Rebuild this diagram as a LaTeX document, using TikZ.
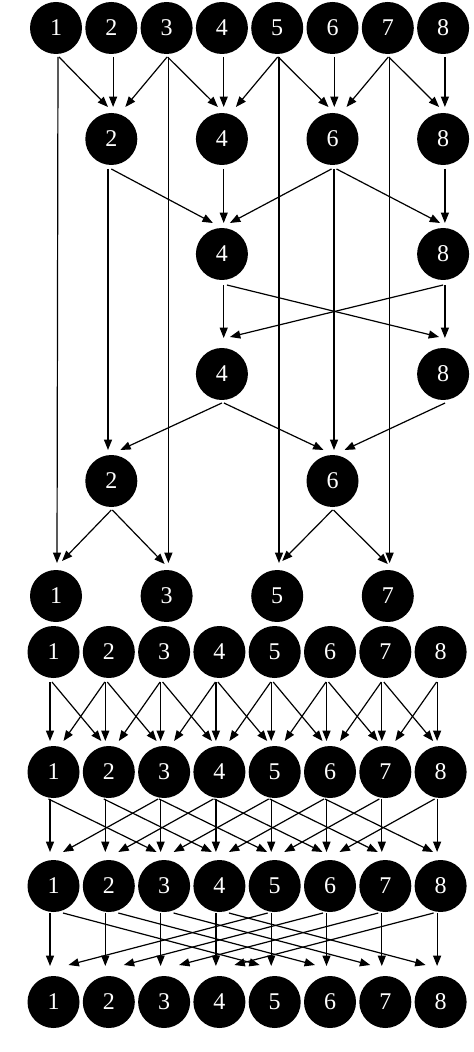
\documentclass[tikz,border=0pt]{standalone}
\usepackage{fontspec}
\setmainfont{Liberation Serif}
\usetikzlibrary{arrows.meta,calc}
\newcommand\myedge[6]{\draw[arr] ($(#1.center)+(#2,#3)$) -- ($(#4.center)+(#5,#6)$);}
\begin{document}
\begin{tikzpicture}[x=0.5pt,y=-0.5pt,
  nd/.style={circle,fill=black,text=white,minimum size=26pt,inner sep=0pt,outer sep=0pt,
    font=\fontsize{12}{14}\selectfont},
  arr/.style={line width=0.6pt,-{Triangle[length=5.2pt,width=4pt]}}]
\useasboundingbox (0,0) rectangle (474,1052);
% ---------- top diagram nodes ----------
\foreach \i in {1,...,8}{
  \node[nd] (t\i) at ({56+55.3*(\i-1)},28) {\i};
}
\foreach \i in {2,4,6,8}{
  \node[nd] (m\i) at ({56+55.3*(\i-1)},139) {\i};
}
\foreach \i in {4,8}{
  \node[nd] (p\i) at ({56+55.3*(\i-1)},254) {\i};
  \node[nd] (q\i) at ({56+55.3*(\i-1)},374) {\i};
}
\foreach \i in {2,6}{
  \node[nd] (s\i) at ({56+55.3*(\i-1)},481) {\i};
}
\foreach \i in {1,3,5,7}{
  \node[nd] (u\i) at ({56+55.3*(\i-1)},596) {\i};
}
% ---------- bottom diagram nodes ----------
\foreach \i in {1,...,8}{
  \node[nd] (a\i) at ({53.5+55.3*(\i-1)},652) {\i};
  \node[nd] (b\i) at ({53.5+55.3*(\i-1)},772) {\i};
  \node[nd] (c\i) at ({53.5+55.3*(\i-1)},886) {\i};
  \node[nd] (d\i) at ({53.5+55.3*(\i-1)},1002) {\i};
}
% ---------- top diagram edges ----------
\myedge{t1}{3}{29}{m2}{-3.3}{-32}
\myedge{t2}{1.8}{29}{m2}{1.8}{-32}
\myedge{t3}{0.5}{29}{m2}{14}{-32}
\myedge{t3}{1}{29}{m4}{-4}{-32}
\myedge{t4}{1.8}{29}{m4}{1.8}{-32}
\myedge{t5}{0.5}{29}{m4}{14}{-32}
\myedge{t5}{1}{29}{m6}{-4}{-32}
\myedge{t6}{1.8}{29}{m6}{1.8}{-32}
\myedge{t7}{0.5}{29}{m6}{14}{-32}
\myedge{t7}{1}{29}{m8}{-4}{-32}
\myedge{t8}{1.8}{29}{m8}{1.8}{-32}
\myedge{t1}{2}{29}{u1}{1}{-33}
\myedge{t3}{1.8}{29}{u3}{1.8}{-33}
\myedge{t5}{1.8}{29}{u5}{1.8}{-33}
\myedge{t7}{1.8}{29}{u7}{1.8}{-33}
% row 2 -> row 3
\myedge{m2}{0}{30}{p4}{-9}{-31}
\myedge{m4}{1.8}{30}{p4}{1.8}{-31}
\myedge{m6}{-1}{30}{p4}{8}{-31}
\myedge{m6}{4}{30}{p8}{-3}{-31}
\myedge{m8}{1.8}{30}{p8}{1.8}{-31}
\myedge{m2}{-3.3}{30}{s2}{-3.3}{-31}
\myedge{m6}{1.5}{30}{s6}{1.5}{-31}
% row 3 -> row 4
\myedge{p4}{1.8}{31}{q4}{1.8}{-36}
\myedge{p4}{5}{31}{q8}{-4}{-37}
\myedge{p8}{0}{31}{q4}{8}{-37}
\myedge{p8}{1.8}{31}{q8}{1.8}{-36}
% row 4 -> row 5
\myedge{q4}{0}{29}{s2}{9}{-31}
\myedge{q4}{2}{29}{s6}{-9}{-31}
\myedge{q8}{2}{29}{s6}{12}{-31}
% row 5 -> row 6
\myedge{s2}{0}{29}{u1}{6}{-35}
\myedge{s2}{1}{29}{u3}{-2}{-32}
\myedge{s6}{0}{29}{u5}{5}{-35}
\myedge{s6}{1}{29}{u7}{0}{-32}
% ---------- bottom diagram edges ----------
\foreach \i in {1,...,8}{
  \myedge{a\i}{-3.5}{30}{b\i}{-3.5}{-31}
  \myedge{b\i}{-3.5}{27}{c\i}{-3.5}{-34}
  \myedge{c\i}{-3.5}{27}{d\i}{-3.5}{-36}
}
\foreach \i in {1,...,7}{
  \pgfmathtruncatemacro\j{\i+1}
  \myedge{a\i}{-1.5}{30}{b\j}{-7.5}{-31}
  \myedge{a\j}{-4}{30}{b\i}{10}{-31}
}
\foreach \i in {1,...,6}{
  \pgfmathtruncatemacro\j{\i+2}
  \myedge{b\i}{-5}{27}{c\j}{-7.5}{-34}
  \myedge{b\j}{-6}{27}{c\i}{9.5}{-34}
}
\foreach \i in {1,...,4}{
  \pgfmathtruncatemacro\j{\i+4}
  \myedge{c\i}{9.5}{27}{d\j}{-15}{-37}
  \myedge{c\j}{-7}{27}{d\i}{15}{-37}
}
\end{tikzpicture}
\end{document}
